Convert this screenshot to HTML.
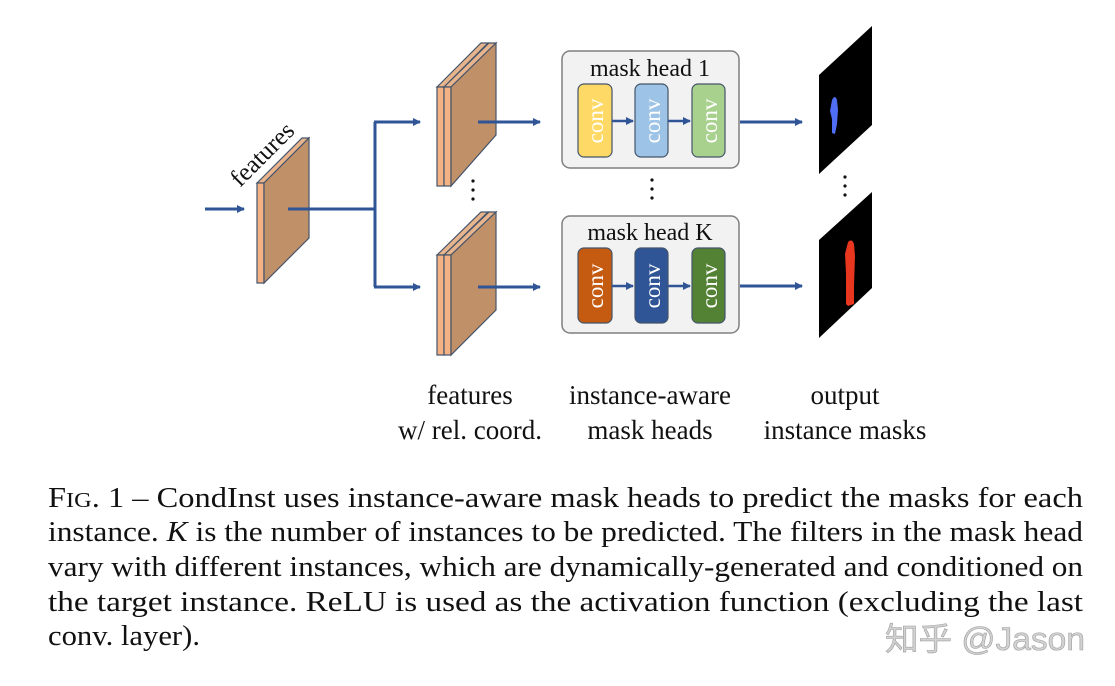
<!DOCTYPE html>
<html><head><meta charset="utf-8"><style>
html,body{margin:0;padding:0;background:#fff;}
svg{display:block;}
.t{font-family:"Liberation Serif",serif;fill:#111;}
.cv{font-family:"Liberation Serif",serif;fill:#fff;font-size:23px;}
</style></head><body>
<svg width="1115" height="686" viewBox="0 0 1115 686" xmlns="http://www.w3.org/2000/svg">
<defs>
<marker id="ah" markerWidth="8" markerHeight="8" refX="7" refY="4" orient="auto" markerUnits="userSpaceOnUse">
<path d="M0,0 L8,4 L0,8 z" fill="#2f5597"/></marker>
</defs>
<g stroke="#2f5597" stroke-width="3" fill="none">
<line x1="205" y1="209" x2="244" y2="209" marker-end="url(#ah)"/>
</g>
<g stroke="#44546a" stroke-width="1.2">
<polygon points="257,183 302,138 309,138 264,183" fill="#e8b48c"/>
<rect x="257" y="183" width="7" height="100" fill="#f4b183"/>
<polygon points="264,183 309,138 309,238 264,283" fill="#c09068"/>
</g>
<g stroke="#2f5597" stroke-width="3" fill="none">
<polyline points="288,209 375,209"/>
<polyline points="375,122 375,287"/>
<line x1="374" y1="122" x2="420" y2="122" marker-end="url(#ah)"/>
<line x1="374" y1="287" x2="420" y2="287" marker-end="url(#ah)"/>
</g>
<g stroke="#44546a" stroke-width="1.2">
<polygon points="437,87 481,43 488,43 444,87" fill="#e8b48c"/>
<rect x="437" y="87" width="7" height="99" fill="#f4b183"/>
<polygon points="444,87 489,43 496,43 451,87" fill="#e8b48c"/>
<rect x="444" y="87" width="7" height="99" fill="#f4b183"/>
<polygon points="451,87 496,43 496,135 451,186" fill="#c09068"/>
<polygon points="437,255 481,212 488,212 444,255" fill="#e8b48c"/>
<rect x="437" y="255" width="7" height="100" fill="#f4b183"/>
<polygon points="444,255 489,212 496,212 451,255" fill="#e8b48c"/>
<rect x="444" y="255" width="7" height="100" fill="#f4b183"/>
<polygon points="451,255 496,212 496,310 451,355" fill="#c09068"/>
</g>
<g stroke="#2f5597" stroke-width="3" fill="none">
<line x1="478" y1="122" x2="540" y2="122" marker-end="url(#ah)"/>
<line x1="478" y1="287" x2="540" y2="287" marker-end="url(#ah)"/>
<line x1="740" y1="122" x2="802" y2="122" marker-end="url(#ah)"/>
<line x1="740" y1="286" x2="802" y2="286" marker-end="url(#ah)"/>
</g>
<g fill="#111">
<circle cx="473" cy="181" r="1.6"/><circle cx="473" cy="190" r="1.6"/><circle cx="473" cy="199" r="1.6"/>
<circle cx="652" cy="180" r="1.6"/><circle cx="652" cy="189" r="1.6"/><circle cx="652" cy="198" r="1.6"/>
<circle cx="845" cy="177" r="1.6"/><circle cx="845" cy="186" r="1.6"/><circle cx="845" cy="195" r="1.6"/>
</g>
<text class="t" font-size="25" transform="translate(240,188) rotate(-45)">features</text>
<rect x="562" y="51" width="177" height="117" rx="8" fill="#f2f2f2" stroke="#7f7f7f" stroke-width="1.5"/>
<rect x="562" y="216" width="177" height="117" rx="8" fill="#f2f2f2" stroke="#7f7f7f" stroke-width="1.5"/>
<text class="t" font-size="24" x="650" y="76" text-anchor="middle">mask head 1</text>
<text class="t" font-size="24" x="650" y="240" text-anchor="middle">mask head K</text>
<g stroke="#44546a" stroke-width="1.2">
<rect x="578" y="84" width="34" height="73" rx="6" fill="#ffd966"/>
<rect x="635" y="84" width="33" height="73" rx="6" fill="#9dc3e6"/>
<rect x="692" y="84" width="33" height="73" rx="6" fill="#a9d18e"/>
<rect x="578" y="248" width="34" height="75" rx="6" fill="#c55a11"/>
<rect x="635" y="248" width="33" height="75" rx="6" fill="#2f5597"/>
<rect x="692" y="248" width="33" height="75" rx="6" fill="#548235"/>
</g>
<g stroke="#2f5597" stroke-width="2.5">
<line x1="612" y1="121" x2="633" y2="121" marker-end="url(#ah)"/>
<line x1="668" y1="121" x2="690" y2="121" marker-end="url(#ah)"/>
<line x1="612" y1="286" x2="633" y2="286" marker-end="url(#ah)"/>
<line x1="668" y1="286" x2="690" y2="286" marker-end="url(#ah)"/>
</g>
<g class="cv" text-anchor="middle">
<text transform="translate(603,121) rotate(-90)">conv</text>
<text transform="translate(660,121) rotate(-90)">conv</text>
<text transform="translate(717,121) rotate(-90)">conv</text>
<text transform="translate(603,286) rotate(-90)">conv</text>
<text transform="translate(660,286) rotate(-90)">conv</text>
<text transform="translate(717,286) rotate(-90)">conv</text>
</g>
<polygon points="819,75 872,26 872,125 819,174" fill="#000"/>
<polygon points="819,240 872,192 872,288 819,338" fill="#000"/>
<path d="M832,100 q3,-6 5,0 l1,10 l-1,14 l-2,10 l-3,-1 l0,-14 l-2,-8 z" fill="#4f6df5"/>
<path d="M848,242 q4,-4 6,2 l1,12 l-1,30 l0,18 l-6,2 l-2,-2 l0,-30 l-1,-20 z" fill="#e8361f"/>
<g class="t" font-size="27" text-anchor="middle">
<text x="470" y="404">features</text>
<text x="470" y="439">w/ rel. coord.</text>
<text x="650" y="404">instance-aware</text>
<text x="650" y="439">mask heads</text>
<text x="845" y="404">output</text>
<text x="845" y="439">instance masks</text>
</g>
<g class="t" font-size="28">
<text x="48" y="507" textLength="1035" lengthAdjust="spacingAndGlyphs">F<tspan font-size="21">IG</tspan>. 1 – CondInst uses instance-aware mask heads to predict the masks for each</text>
<text x="48" y="541" textLength="1035" lengthAdjust="spacingAndGlyphs">instance. <tspan font-style="italic">K</tspan> is the number of instances to be predicted. The filters in the mask head</text>
<text x="48" y="576" textLength="1035" lengthAdjust="spacingAndGlyphs">vary with different instances, which are dynamically-generated and conditioned on</text>
<text x="48" y="611" textLength="1035" lengthAdjust="spacingAndGlyphs">the target instance. ReLU is used as the activation function (excluding the last</text>
<text x="48" y="645" textLength="152" lengthAdjust="spacingAndGlyphs">conv. layer).</text>
</g>
<text x="885" y="650" font-size="32" fill="#d2d2d2" stroke="#a0a0a0" stroke-width="0.6" textLength="200" lengthAdjust="spacingAndGlyphs" font-family="'Liberation Sans','Noto Sans CJK SC',sans-serif">知乎 @Jason</text>
</svg>
</body></html>
